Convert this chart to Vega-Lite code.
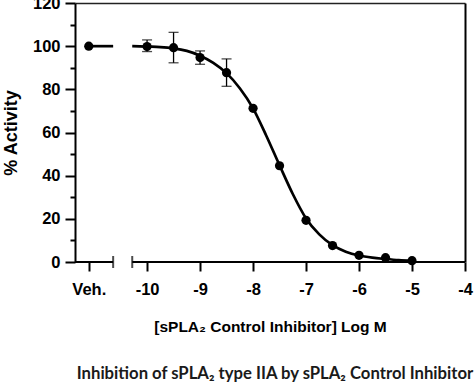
{
  "$schema": "https://vega.github.io/schema/vega-lite/v6.json",
  "width": 390,
  "height": 259,
  "autosize": {"type": "none"},
  "padding": {"left": 75, "top": 3, "right": 9, "bottom": 121},
  "background": "white",
  "config": {
    "view": {"stroke": null},
    "axis": {"grid": false, "domainColor": "black", "tickColor": "black", "labelColor": "black", "titleColor": "black", "labelFont": "Liberation Sans", "titleFont": "Liberation Sans"}
  },
  "title": {
    "text": "Inhibition of sPLA₂ type IIA by sPLA₂ Control Inhibitor",
    "orient": "bottom",
    "anchor": "middle",
    "font": "Lato",
    "fontSize": 16.7,
    "fontWeight": "bold",
    "color": "#1a1a1a",
    "offset": 31,
    "dx": 5
  },
  "datasets": {
    "points": [
      {"x": -11.1, "activity": 100},
      {"x": -10, "activity": 99.8, "lo": 97.5, "hi": 102.9},
      {"x": -9.5, "activity": 99.3, "lo": 92.3, "hi": 106.4},
      {"x": -9, "activity": 94.7, "lo": 91.6, "hi": 97.8},
      {"x": -8.5, "activity": 87.7, "lo": 81.4, "hi": 94.1},
      {"x": -8, "activity": 71.2},
      {"x": -7.5, "activity": 44.6},
      {"x": -7, "activity": 19.3},
      {"x": -6.5, "activity": 7.6},
      {"x": -6, "activity": 3.1},
      {"x": -5.5, "activity": 2.0},
      {"x": -5, "activity": 0.6}
    ],
    "curve": [
      {"segment": "veh", "x": -11.1, "activity": 100},
      {"segment": "veh", "x": -10.64, "activity": 100},
      {"segment": "fit", "x": -10.28, "activity": 100},
      {"segment": "fit", "x": -10, "activity": 99.8},
      {"segment": "fit", "x": -9.75, "activity": 99.6},
      {"segment": "fit", "x": -9.5, "activity": 99.0},
      {"segment": "fit", "x": -9.25, "activity": 97.8},
      {"segment": "fit", "x": -9, "activity": 95.6},
      {"segment": "fit", "x": -8.75, "activity": 92.3},
      {"segment": "fit", "x": -8.5, "activity": 87.5},
      {"segment": "fit", "x": -8.25, "activity": 80.5},
      {"segment": "fit", "x": -8, "activity": 71.2},
      {"segment": "fit", "x": -7.75, "activity": 58.5},
      {"segment": "fit", "x": -7.5, "activity": 44.8},
      {"segment": "fit", "x": -7.25, "activity": 31.5},
      {"segment": "fit", "x": -7, "activity": 20.2},
      {"segment": "fit", "x": -6.75, "activity": 12.8},
      {"segment": "fit", "x": -6.5, "activity": 7.8},
      {"segment": "fit", "x": -6.25, "activity": 4.8},
      {"segment": "fit", "x": -6, "activity": 3.0},
      {"segment": "fit", "x": -5.75, "activity": 2.0},
      {"segment": "fit", "x": -5.5, "activity": 1.4},
      {"segment": "fit", "x": -5.25, "activity": 0.9},
      {"segment": "fit", "x": -5, "activity": 0.6}
    ],
    "axisline": [
      {"x": -11.36, "x2": -10.64},
      {"x": -10.28, "x2": -4}
    ],
    "caps": [
      {"x": -10.64},
      {"x": -10.28}
    ]
  },
  "layer": [
    {
      "data": {"name": "curve"},
      "mark": {"type": "line", "color": "black", "strokeWidth": 2.7, "interpolate": "monotone"},
      "encoding": {
        "x": {
          "field": "x", "type": "quantitative",
          "scale": {"domain": [-11.36, -4], "nice": false, "zero": false},
          "axis": {
            "orient": "bottom",
            "values": [-11.1, -10, -9, -8, -7, -6, -5, -4],
            "labelExpr": "datum.value < -11 ? 'Veh.' : toString(datum.value)",
            "domain": false,
            "tickSize": 9, "tickWidth": 2,
            "labelFontSize": 16.5, "labelFontWeight": "bold", "labelPadding": 10,
            "labelFlush": false, "labelOverlap": false,
            "title": "[sPLA₂ Control Inhibitor] Log M",
            "titleFontSize": 15.5, "titleFontWeight": "bold", "titlePadding": 22
          }
        },
        "y": {
          "field": "activity", "type": "quantitative",
          "scale": {"domain": [0, 120], "nice": false},
          "axis": {
            "orient": "left",
            "values": [0, 20, 40, 60, 80, 100, 120],
            "domainWidth": 2,
            "tickSize": 10, "tickWidth": 2,
            "labelFontSize": 16.5, "labelFontWeight": "bold", "labelPadding": 5,
            "title": "% Activity",
            "titleFontSize": 18, "titleFontWeight": "bold", "titlePadding": 12
          }
        },
        "detail": {"field": "segment"}
      }
    },
    {
      "data": {"name": "points"},
      "transform": [{"filter": "isValid(datum.lo)"}],
      "mark": {"type": "rule", "color": "black", "strokeWidth": 1.3},
      "encoding": {
        "x": {"field": "x", "type": "quantitative", "axis": null},
        "y": {
          "field": "lo", "type": "quantitative",
          "axis": {
            "orient": "left",
            "values": [10, 30, 50, 70, 90, 110],
            "domain": false, "labels": false, "title": null,
            "tickSize": 5, "tickWidth": 2
          }
        },
        "y2": {"field": "hi"}
      }
    },
    {
      "data": {"name": "points"},
      "transform": [
        {"filter": "isValid(datum.lo)"},
        {"fold": ["lo", "hi"], "as": ["end", "bound"]}
      ],
      "mark": {"type": "tick", "orient": "horizontal", "color": "black", "size": 10, "thickness": 1.3},
      "encoding": {
        "x": {
          "field": "x", "type": "quantitative",
          "axis": {"orient": "top", "domain": true, "domainWidth": 1.5, "domainColor": "#222", "ticks": false, "labels": false, "title": null}
        },
        "y": {
          "field": "bound", "type": "quantitative",
          "axis": {"orient": "right", "domain": true, "domainWidth": 2, "ticks": false, "labels": false, "title": null}
        }
      }
    },
    {
      "data": {"name": "points"},
      "mark": {"type": "circle", "color": "black", "size": 85, "opacity": 1},
      "encoding": {
        "x": {"field": "x", "type": "quantitative", "axis": null},
        "y": {"field": "activity", "type": "quantitative", "axis": null}
      }
    },
    {
      "data": {"name": "axisline"},
      "mark": {"type": "rule", "color": "black", "strokeWidth": 2},
      "encoding": {
        "x": {"field": "x", "type": "quantitative", "axis": null},
        "x2": {"field": "x2"},
        "y": {"datum": 0, "type": "quantitative", "axis": null}
      }
    },
    {
      "data": {"name": "caps"},
      "mark": {"type": "tick", "orient": "vertical", "color": "black", "size": 12, "thickness": 2},
      "encoding": {
        "x": {"field": "x", "type": "quantitative", "axis": null},
        "y": {"datum": 0, "type": "quantitative", "axis": null}
      }
    }
  ],
  "resolve": {"axis": {"x": "independent", "y": "independent"}}
}
